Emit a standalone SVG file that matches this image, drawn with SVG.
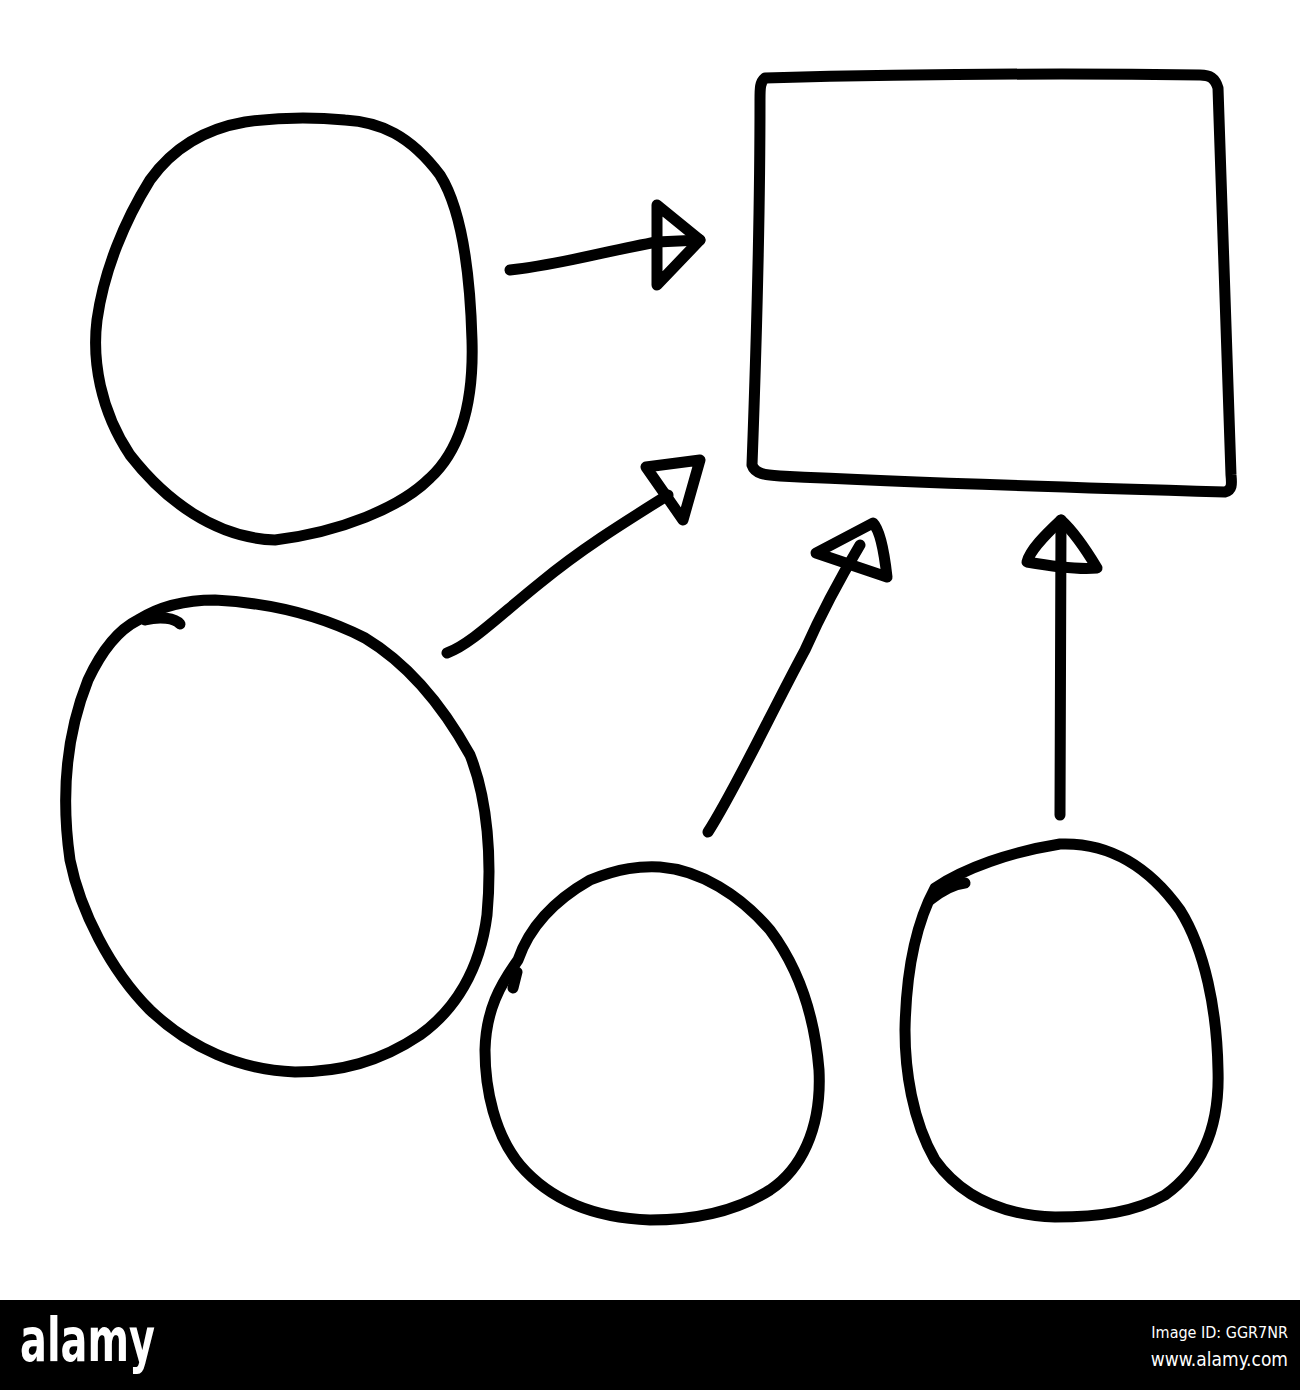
<svg xmlns="http://www.w3.org/2000/svg" width="1300" height="1390" viewBox="0 0 1300 1390">
<style>
.s{fill:none;stroke:#000;stroke-width:11;stroke-linecap:round;stroke-linejoin:round}
.w{fill:#fff;font-family:"DejaVu Sans Condensed","DejaVu Sans",sans-serif}
</style>
<rect x="0" y="0" width="1300" height="1300" fill="#fff"/>
<g id="circle1"><path class="s" d="M345,120 C380,122 410,135 440,175 C462,210 470,270 472,340 C474,405 460,450 430,478 C400,508 340,532 275,540 C215,538 165,500 130,455 C100,410 92,360 97,320 C104,270 125,220 150,180 C175,145 210,128 245,122 C280,117 315,117 345,120 Z"/></g>
<g id="circle2"><path class="s" d="M138,620 C160,606 185,600 215,600 C270,603 320,615 365,638 C410,665 445,710 470,755 C488,800 492,860 487,915 C480,970 455,1010 420,1035 C380,1062 340,1072 295,1072 C240,1070 190,1048 150,1010 C110,970 80,910 70,860 C60,790 68,730 88,680 C102,650 118,630 138,620 Z"/><path class="s" d="M145,620 C160,616 175,618 180,624"/></g>
<g id="box"><path class="s" d="M765,78 C760,82 760,88 760,100 C760,200 757,330 752,465 C755,474 765,475 780,476 C900,482 1050,487 1225,492 C1232,490 1232,485 1231,475 C1228,350 1222,220 1218,88 C1215,78 1210,75 1200,75 C1060,73 920,74 765,78 Z"/></g>
<g id="circle3"><path class="s" d="M518,960 C530,925 555,900 590,880 C620,868 640,866 660,867 C700,870 740,895 770,930 C800,970 815,1020 819,1070 C822,1130 800,1170 770,1190 C735,1212 695,1220 650,1220 C595,1218 550,1200 520,1165 C495,1135 485,1090 485,1050 C486,1010 500,985 518,960 Z"/><path class="s" d="M517,972 L513,988"/></g>
<g id="circle4"><path class="s" d="M935,888 C965,868 1010,852 1060,844 C1110,842 1150,868 1180,910 C1205,950 1217,1010 1218,1070 C1220,1130 1200,1170 1165,1195 C1135,1212 1100,1217 1055,1217 C1000,1215 960,1195 935,1160 C912,1120 905,1070 905,1030 C906,975 915,925 935,888 Z"/><path class="s" d="M930,900 C945,888 955,884 965,883"/></g>
<g id="connectors">
<path class="s" d="M510,270 C560,265 610,250 657,242 L700,240"/>
<path class="s" d="M657,205 L657,285 L700,240 Z"/>
<path class="s" d="M447,653 C470,645 500,615 540,583 C580,550 620,525 668,495"/>
<path class="s" d="M646,467 L700,460 L683,520 Z"/>
<path class="s" d="M708,832 C735,790 770,715 805,650 C825,605 845,570 860,545"/>
<path class="s" d="M816,553 L873,523 C880,530 884,550 887,577 Z"/>
<path class="s" d="M1060,815 C1060,720 1061,620 1061,520"/>
<path class="s" d="M1061,520 C1045,535 1030,550 1027,562 C1050,566 1075,570 1097,568 C1085,548 1072,530 1061,520 Z"/>
</g>
<g id="footer">
<rect x="0" y="1300" width="1300" height="90" fill="#000"/>
<text class="w" x="20" y="1361" font-size="60" font-weight="bold" textLength="135" lengthAdjust="spacingAndGlyphs">alamy</text>
<text class="w" x="1288" y="1338" font-size="16" text-anchor="end">Image ID: GGR7NR</text>
<text class="w" x="1288" y="1366" font-size="19" text-anchor="end">www.alamy.com</text>
</g>
</svg>
